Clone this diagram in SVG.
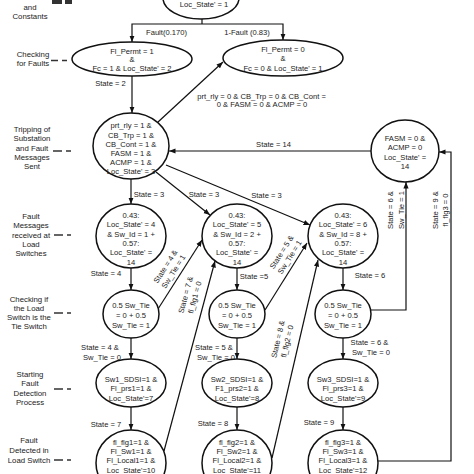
<svg xmlns="http://www.w3.org/2000/svg" width="474" height="474" viewBox="0 0 474 474">
<defs>
<marker id="ah" markerUnits="userSpaceOnUse" markerWidth="7" markerHeight="6" refX="6.5" refY="3" orient="auto" viewBox="0 0 7 6"><path d="M0,0.4 L6.5,3 L0,5.6 Z" fill="#111"/></marker>
</defs>
<style>
.n{fill:#fff;stroke:#111;stroke-width:1.5}
.c path{fill:none;stroke:#111;stroke-width:1.2}
.c path.a{marker-end:url(#ah)}
text{font-family:"Liberation Sans",Arial,sans-serif;font-size:7.6px;fill:#222;text-anchor:middle}
.s text{font-size:7.8px}
.d{stroke:#333;stroke-width:1.3}
</style>
<rect width="474" height="474" fill="#fff"/>

<g id="side-labels" class="s">
<rect x="52" y="0" width="10" height="4" fill="#333"/><rect x="65" y="0" width="7" height="4" fill="#333"/>
<text x="30" y="9.7">and</text><text x="30" y="18.7">Constants</text>
<text x="33" y="56.7">Checking</text><text x="33" y="65.7">for Faults</text>
<path class="d" d="M51,60.5 H58 M62,60.5 H67"/>
<text x="32" y="131.7">Tripping of</text><text x="32" y="141.2">Substation</text><text x="32" y="150.7">and Fault</text><text x="32" y="159.7">Messages</text><text x="32" y="168.7">Sent</text>
<path class="d" d="M53,151 H62 M66,151 H71"/>
<text x="31" y="218.7">Fault</text><text x="31" y="228.2">Messages</text><text x="31" y="237.7">received at</text><text x="31" y="246.7">Load</text><text x="31" y="255.7">Switches</text>
<path class="d" d="M54,235 H63 M67,235 H71"/>
<text x="29" y="301.7">Checking if</text><text x="29" y="310.7">the Load</text><text x="29" y="319.7">Switch is the</text><text x="29" y="328.7">Tie Switch</text>
<path class="d" d="M54,313 H63 M67,313 H71"/>
<text x="30" y="376.5">Starting</text><text x="30" y="386">Fault</text><text x="30" y="395.5">Detection</text><text x="30" y="405">Process</text>
<path class="d" d="M54,389 H63 M67,389 H71"/>
<text x="29" y="442.7">Fault</text><text x="29" y="452.7">Detected in</text><text x="29" y="462.7">Load Switch</text>
<path class="d" d="M54,460 H63 M67,460 H71"/>
</g>

<g id="connectors" class="c">
<path d="M202,19 V24"/>
<path class="a" d="M202,24 H132 V42"/>
<path class="a" d="M202,24 H283 V40"/>
<path class="a" d="M132,76 V113"/>
<path class="a" d="M158,122 L223,62"/>
<path class="a" d="M371,151 H169"/>
<path class="a" d="M131,179 V204"/>
<path class="a" d="M156,172 L210,215"/>
<path class="a" d="M166,165 L310,225"/>
<path class="a" d="M131,268 V290"/>
<path class="a" d="M237,268 V290"/>
<path class="a" d="M343,268 V290"/>
<path class="a" d="M131,338 V359"/>
<path class="a" d="M237,338 V359"/>
<path class="a" d="M343,338 V359"/>
<path class="a" d="M131,407 V430"/>
<path class="a" d="M237,407 V430"/>
<path class="a" d="M343,407 V430"/>
<path class="a" d="M158,309 L202,240"/>
<path class="a" d="M164,451 L215,261"/>
<path class="a" d="M265,310 L307,243"/>
<path class="a" d="M272,458 L318,260"/>
<path class="a" d="M371,310 H406 V182"/>
<path class="a" d="M378,461 H451 V152 H439"/>
</g>

<g id="connector-labels">
<text x="166.5" y="34.7">Fault(0.170)</text>
<text x="247" y="34.7">1-Fault (0.83)</text>
<text x="110.5" y="85.7">State = 2</text>
<text x="261.5" y="98.7">prt_rly = 0 &amp; CB_Trp = 0 &amp; CB_Cont =</text>
<text x="262" y="106.7">0 &amp; FASM = 0 &amp; ACMP = 0</text>
<text x="273.5" y="146.7">State = 14</text>
<text x="149" y="196.7">State = 3</text>
<text x="204" y="196.7">State = 3</text>
<text x="266.5" y="197.7">State = 3</text>
<text x="106" y="275.7">State = 4</text>
<text x="254" y="278.7">State =5</text>
<text x="370" y="277.7">State = 6</text>
<text x="100" y="349.7">State = 4 &amp;</text><text x="102" y="359.7">Sw_Tie = 0</text>
<text x="214" y="349.7">State = 5 &amp;</text><text x="216" y="359.7">Sw_Tie = 0</text>
<text x="369.5" y="344.7">State = 6 &amp;</text><text x="371" y="354.7">Sw_Tie = 0</text>
<text x="106" y="426.7">State = 7</text>
<text x="213" y="425.7">State = 8</text>
<text x="319" y="424.7">State = 9</text>
<g transform="translate(179.5,275.4) rotate(-57.5)"><text y="-14">State = 4 &amp;</text><text y="-4.5">Sw_Tie = 1</text></g>
<g transform="translate(295.7,261) rotate(-57.9)"><text y="-14">State = 5 &amp;</text><text y="-4.5">Sw_Tie = 1</text></g>
<g transform="translate(204.5,300) rotate(-75)"><text y="-17">State = 7 &amp;</text><text y="-7.5">fl_flg1 = 0</text></g>
<g transform="translate(298.5,344) rotate(-76.9)"><text y="-18.5">State = 8 &amp;</text><text y="-9">fl_flg2 = 0</text></g>
<g transform="translate(393,210) rotate(-90)"><text y="0">State = 6 &amp;</text><text y="11">Sw_Tie = 1</text></g>
<g transform="translate(438,210) rotate(-90)"><text y="0">State = 9 &amp;</text><text y="10">fl_flg3 = 0</text></g>
</g>

<g id="n-init"><ellipse class="n" cx="201" cy="-2" rx="38" ry="21"/><text x="204" y="6.7">Loc_State' = 1</text></g>

<g id="n-check-fault"><ellipse class="n" cx="132" cy="59" rx="60" ry="17"/>
<text x="132" y="53.7">Fl_Permt = 1</text><text x="132" y="62.4">&amp;</text><text x="132" y="71.2">Fc = 1 &amp; Loc_State' = 2</text></g>

<g id="n-no-fault"><ellipse class="n" cx="283" cy="58" rx="60" ry="18"/>
<text x="283" y="51.7">Fl_Permt = 0</text><text x="283" y="60.7">&amp;</text><text x="283" y="70.7">Fc = 0 &amp; Loc_State' = 1</text></g>

<g id="n-trip"><ellipse class="n" cx="131" cy="146" rx="38" ry="33"/>
<text x="131" y="128.4">prt_rly = 1 &amp;</text><text x="131" y="137.6">CB_Trp = 1 &amp;</text><text x="131" y="146.8">CB_Cont = 1 &amp;</text><text x="131" y="156">FASM = 1 &amp;</text><text x="131" y="165.2">ACMP = 1 &amp;</text><text x="131" y="174.4">Loc_State' = 3</text></g>

<g id="n-state14"><ellipse class="n" cx="405" cy="151" rx="34" ry="31"/>
<text x="405" y="141">FASM = 0 &amp;</text><text x="405" y="150.3">ACMP = 0</text><text x="405" y="159.6">Loc_State' =</text><text x="405" y="168.9">14</text></g>

<g id="n-msg1"><ellipse class="n" cx="131" cy="236" rx="35" ry="32"/>
<text x="131" y="218">0.43:</text><text x="131" y="227.3">Loc_State' = 4</text><text x="131" y="236.6">&amp; Sw_Id = 1 +</text><text x="131" y="245.9">0.57:</text><text x="131" y="255.2">Loc_State' =</text><text x="131" y="264.5">14</text></g>

<g id="n-msg2"><ellipse class="n" cx="237" cy="236" rx="35" ry="32"/>
<text x="237" y="218">0.43:</text><text x="237" y="227.3">Loc_State' = 5</text><text x="237" y="236.6">&amp; Sw_Id = 2 +</text><text x="237" y="245.9">0.57:</text><text x="237" y="255.2">Loc_State' =</text><text x="237" y="264.5">14</text></g>

<g id="n-msg3"><ellipse class="n" cx="343" cy="236" rx="35" ry="32"/>
<text x="343" y="218">0.43:</text><text x="343" y="227.3">Loc_State' = 6</text><text x="343" y="236.6">&amp; Sw_Id = 8 +</text><text x="343" y="245.9">0.57:</text><text x="343" y="255.2">Loc_State' =</text><text x="343" y="264.5">14</text></g>

<g id="n-tie1"><ellipse class="n" cx="131" cy="314" rx="28" ry="24"/>
<text x="131" y="307.7">0.5 Sw_Tie</text><text x="131" y="317.7">= 0 + 0.5</text><text x="131" y="327.7">Sw_Tie = 1</text></g>

<g id="n-tie2"><ellipse class="n" cx="237" cy="314" rx="28" ry="24"/>
<text x="237" y="307.7">0.5 Sw_Tie</text><text x="237" y="317.7">= 0 + 0.5</text><text x="237" y="327.7">Sw_Tie = 1</text></g>

<g id="n-tie3"><ellipse class="n" cx="343" cy="314" rx="28" ry="24"/>
<text x="343" y="307.7">0.5 Sw_Tie</text><text x="343" y="317.7">= 0 + 0.5</text><text x="343" y="327.7">Sw_Tie = 1</text></g>

<g id="n-sdsi1"><ellipse class="n" cx="131" cy="383" rx="35" ry="24"/>
<text x="131" y="381.7">Sw1_SDSI=1 &amp;</text><text x="131" y="391.2">Fl_prs1=1 &amp;</text><text x="131" y="400.7">Loc_State'=7</text></g>

<g id="n-sdsi2"><ellipse class="n" cx="237" cy="383" rx="35" ry="24"/>
<text x="237" y="381.7">Sw2_SDSI=1 &amp;</text><text x="237" y="391.2">F1_prs2=1 &amp;</text><text x="237" y="400.7">Loc_State'=8</text></g>

<g id="n-sdsi3"><ellipse class="n" cx="343" cy="383" rx="35" ry="24"/>
<text x="343" y="381.7">Sw3_SDSI=1 &amp;</text><text x="343" y="391.2">Fl_prs3=1 &amp;</text><text x="343" y="400.7">Loc_State'=9</text></g>

<g id="n-flg1"><ellipse class="n" cx="131" cy="463" rx="35" ry="33"/>
<text x="131" y="445">fl_flg1=1 &amp;</text><text x="131" y="454.2">Fl_Sw1=1 &amp;</text><text x="131" y="463.4">Fl_Local1=1 &amp;</text><text x="131" y="472.6">Loc_State'=10</text></g>

<g id="n-flg2"><ellipse class="n" cx="237" cy="463" rx="35" ry="33"/>
<text x="237" y="445">fl_flg2=1 &amp;</text><text x="237" y="454.2">Fl_Sw2=1 &amp;</text><text x="237" y="463.4">Fl_Local2=1 &amp;</text><text x="237" y="472.6">Loc_State'=11</text></g>

<g id="n-flg3"><ellipse class="n" cx="343" cy="463" rx="35" ry="33"/>
<text x="343" y="445">fl_flg3=1 &amp;</text><text x="343" y="454.2">Fl_Sw3=1 &amp;</text><text x="343" y="463.4">Fl_Local3=1 &amp;</text><text x="343" y="472.6">Loc_State'=12</text></g>
</svg>
